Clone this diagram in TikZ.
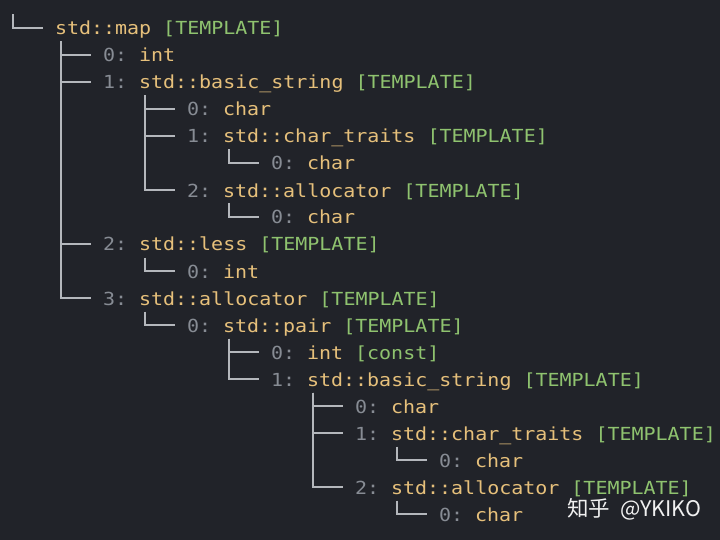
\documentclass[tikz,border=0pt]{standalone}
\usepackage{fontspec}
\setmonofont[FakeStretch=1.11]{DejaVu Sans Mono}
\newfontfamily\cjkfont{Noto Sans CJK SC}
\usetikzlibrary{positioning}

\definecolor{bg}{HTML}{212329}
\definecolor{branchgray}{HTML}{B4B7BC}
\definecolor{idxgray}{HTML}{878C94}
\definecolor{typeyellow}{HTML}{E6C07B}
\definecolor{taggreen}{HTML}{8FC36F}

\tikzset{
  cell/.style={font=\ttfamily\fontsize{18}{20}\selectfont, inner sep=0pt, outer sep=0pt,
    text height=20.5pt, text depth=6.5pt, anchor=west},
  idx/.style={cell, text=idxgray},
  typ/.style={cell, text=typeyellow},
  tag/.style={cell, text=taggreen},
  branch/.style={draw=branchgray, line width=1.3pt},
}

\begin{document}
\begin{tikzpicture}[x=1pt,y=-1pt]

\fill[bg] (0,0) rectangle (720,540);
\useasboundingbox (0,0) rectangle (720,540);

% root
\coordinate (top) at (13,14.5);
\node[typ](map) at (55,28) {std::map};
\node[tag,right=12pt of map](map tag) {[TEMPLATE]};

% first level
\node[idx](i-0) at (103,55) {0:};
\node[typ,right=12pt of i-0](n-0) {int};

\node[idx](i-1) at (103,82) {1:};
\node[typ,right=12pt of i-1](n-1) {std::basic\_string};
\node[tag,right=12pt of n-1](t-1) {[TEMPLATE]};

\node[idx](i-1-0) at (187,109) {0:};
\node[typ,right=12pt of i-1-0](n-1-0) {char};

\node[idx](i-1-1) at (187,136) {1:};
\node[typ,right=12pt of i-1-1](n-1-1) {std::char\_traits};
\node[tag,right=12pt of n-1-1](t-1-1) {[TEMPLATE]};

\node[idx](i-1-1-0) at (271,163) {0:};
\node[typ,right=12pt of i-1-1-0](n-1-1-0) {char};

\node[idx](i-1-2) at (187,190) {2:};
\node[typ,right=12pt of i-1-2](n-1-2) {std::allocator};
\node[tag,right=12pt of n-1-2](t-1-2) {[TEMPLATE]};

\node[idx](i-1-2-0) at (271,217) {0:};
\node[typ,right=12pt of i-1-2-0](n-1-2-0) {char};

\node[idx](i-2) at (103,244) {2:};
\node[typ,right=12pt of i-2](n-2) {std::less};
\node[tag,right=12pt of n-2](t-2) {[TEMPLATE]};

\node[idx](i-2-0) at (187,271) {0:};
\node[typ,right=12pt of i-2-0](n-2-0) {int};

\node[idx](i-3) at (103,298) {3:};
\node[typ,right=12pt of i-3](n-3) {std::allocator};
\node[tag,right=12pt of n-3](t-3) {[TEMPLATE]};

\node[idx](i-3-0) at (187,325) {0:};
\node[typ,right=12pt of i-3-0](n-3-0) {std::pair};
\node[tag,right=12pt of n-3-0](t-3-0) {[TEMPLATE]};

\node[idx](i-3-0-0) at (271,352) {0:};
\node[typ,right=12pt of i-3-0-0](n-3-0-0) {int};
\node[tag,right=12pt of n-3-0-0](t-3-0-0) {[const]};

\node[idx](i-3-0-1) at (271,379) {1:};
\node[typ,right=12pt of i-3-0-1](n-3-0-1) {std::basic\_string};
\node[tag,right=12pt of n-3-0-1](t-3-0-1) {[TEMPLATE]};

\node[idx](i-3-0-1-0) at (355,406) {0:};
\node[typ,right=12pt of i-3-0-1-0](n-3-0-1-0) {char};

\node[idx](i-3-0-1-1) at (355,433) {1:};
\node[typ,right=12pt of i-3-0-1-1](n-3-0-1-1) {std::char\_traits};
\node[tag,right=12pt of n-3-0-1-1](t-3-0-1-1) {[TEMPLATE]};

\node[idx](i-3-0-1-1-0) at (439,460) {0:};
\node[typ,right=12pt of i-3-0-1-1-0](n-3-0-1-1-0) {char};

\node[idx](i-3-0-1-2) at (355,487) {2:};
\node[typ,right=12pt of i-3-0-1-2](n-3-0-1-2) {std::allocator};
\node[tag,right=12pt of n-3-0-1-2](t-3-0-1-2) {[TEMPLATE]};

\node[idx](i-3-0-1-2-0) at (439,514) {0:};
\node[typ,right=12pt of i-3-0-1-2-0](n-3-0-1-2-0) {char};

% watermark
\node[anchor=west,inner sep=0pt,text=white!94!black,font=\cjkfont\fontsize{21.5}{24}\selectfont](mark) at (567,509) {知乎\hspace{5pt} @YKIKO};

% branches
\draw[branch] (top) |- ([xshift=-12pt]map.west);

\draw[branch] ([xshift=6pt]map.south west) |- ([xshift=-12pt]i-0.west);
\draw[branch] ([xshift=6pt]map.south west) |- ([xshift=-12pt]i-1.west);
\draw[branch] ([xshift=6pt]map.south west) |- ([xshift=-12pt]i-2.west);
\draw[branch] ([xshift=6pt]map.south west) |- ([xshift=-12pt]i-3.west);

\draw[branch] ([xshift=6pt]n-1.south west) |- ([xshift=-12pt]i-1-0.west);
\draw[branch] ([xshift=6pt]n-1.south west) |- ([xshift=-12pt]i-1-1.west);
\draw[branch] ([xshift=6pt]n-1.south west) |- ([xshift=-12pt]i-1-2.west);
\draw[branch] ([xshift=6pt]n-1-1.south west) |- ([xshift=-12pt]i-1-1-0.west);
\draw[branch] ([xshift=6pt]n-1-2.south west) |- ([xshift=-12pt]i-1-2-0.west);

\draw[branch] ([xshift=6pt]n-2.south west) |- ([xshift=-12pt]i-2-0.west);

\draw[branch] ([xshift=6pt]n-3.south west) |- ([xshift=-12pt]i-3-0.west);
\draw[branch] ([xshift=6pt]n-3-0.south west) |- ([xshift=-12pt]i-3-0-0.west);
\draw[branch] ([xshift=6pt]n-3-0.south west) |- ([xshift=-12pt]i-3-0-1.west);
\draw[branch] ([xshift=6pt]n-3-0-1.south west) |- ([xshift=-12pt]i-3-0-1-0.west);
\draw[branch] ([xshift=6pt]n-3-0-1.south west) |- ([xshift=-12pt]i-3-0-1-1.west);
\draw[branch] ([xshift=6pt]n-3-0-1.south west) |- ([xshift=-12pt]i-3-0-1-2.west);
\draw[branch] ([xshift=6pt]n-3-0-1-1.south west) |- ([xshift=-12pt]i-3-0-1-1-0.west);
\draw[branch] ([xshift=6pt]n-3-0-1-2.south west) |- ([xshift=-12pt]i-3-0-1-2-0.west);

\end{tikzpicture}
\end{document}
